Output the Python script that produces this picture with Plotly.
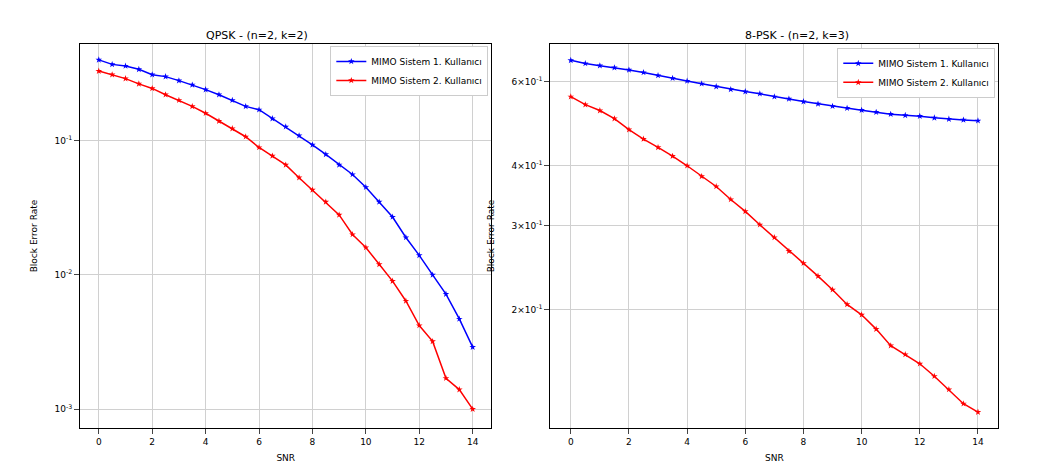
import plotly.graph_objects as go
from plotly.subplots import make_subplots

snr = [i*0.5 for i in range(29)]
qpsk_u1 = [0.40,0.37,0.36,0.34,0.31,0.30,0.28,0.26,0.24,0.22,0.20,0.18,0.17,0.146,0.127,0.109,0.093,0.079,0.066,0.056,0.045,0.035,0.027,0.019,0.014,0.010,0.0072,0.0047,0.0029]
qpsk_u2 = [0.33,0.31,0.29,0.265,0.245,0.22,0.20,0.18,0.16,0.14,0.123,0.107,0.089,0.077,0.066,0.053,0.043,0.035,0.028,0.020,0.016,0.012,0.009,0.0064,0.0042,0.0032,0.0017,0.0014,0.001]
psk8_u1 = [0.665,0.655,0.648,0.642,0.635,0.627,0.618,0.61,0.602,0.594,0.586,0.578,0.572,0.566,0.558,0.552,0.545,0.539,0.533,0.528,0.523,0.518,0.513,0.51,0.508,0.504,0.501,0.499,0.497]
psk8_u2 = [0.558,0.537,0.522,0.502,0.476,0.455,0.437,0.419,0.40,0.38,0.362,0.340,0.321,0.301,0.283,0.265,0.25,0.235,0.22,0.205,0.195,0.182,0.168,0.161,0.154,0.145,0.136,0.127,0.122]
names = ["MIMO Sistem 1. Kullanıcı", "MIMO Sistem 2. Kullanıcı"]
titles = ["QPSK - (n=2, k=2)", "8-PSK - (n=2, k=3)"]

fig = make_subplots(rows=1, cols=2, horizontal_spacing=0.06, subplot_titles=titles)
for col, (a, b) in enumerate([(qpsk_u1, qpsk_u2), (psk8_u1, psk8_u2)], start=1):
    for ys, c, n in [(a, "blue", names[0]), (b, "red", names[1])]:
        fig.add_trace(go.Scatter(x=snr, y=ys, mode="lines+markers", name=n,
                                 line=dict(color=c, width=1.5), marker=dict(symbol="star", size=5, color=c),
                                 legend="legend" if col == 1 else "legend2"), row=1, col=col)

ax = dict(showline=True, linecolor="black", mirror=True, gridcolor="#d0d0d0", ticks="outside",
          tickfont=dict(size=9), zeroline=False)
fig.update_xaxes(**ax, dtick=2, range=[-0.7, 14.7], title=dict(text="SNR", font=dict(size=9), standoff=8))
fig.update_xaxes(domain=[0.061, 0.465], row=1, col=1)
fig.update_xaxes(domain=[0.523, 0.963], row=1, col=2)
fig.update_yaxes(**ax, type="log", title=dict(text="Block Error Rate", font=dict(size=9)))
fig.update_yaxes(range=[-3.14, -0.28], tickvals=[0.001, 0.01, 0.1],
                 ticktext=["10<sup>-3</sup>", "10<sup>-2</sup>", "10<sup>-1</sup>"], row=1, col=1)
fig.update_yaxes(range=[-0.947, -0.143], tickvals=[0.2, 0.3, 0.4, 0.6],
                 ticktext=["2×10<sup>-1</sup>", "3×10<sup>-1</sup>", "4×10<sup>-1</sup>", "6×10<sup>-1</sup>"], row=1, col=2)
fig.update_annotations(font=dict(size=11))
leg = dict(xanchor="right", yanchor="top", bordercolor="#ccc", borderwidth=1,
           bgcolor="white", font=dict(size=9))
fig.update_layout(width=1038, height=476, plot_bgcolor="white", paper_bgcolor="white",
                  font=dict(family="DejaVu Sans", color="black"),
                  margin=dict(l=10, r=10, t=36, b=56),
                  legend=dict(leg, x=0.462, y=0.995), legend2=dict(leg, x=0.96, y=0.99))
fig.write_html("out.html")
